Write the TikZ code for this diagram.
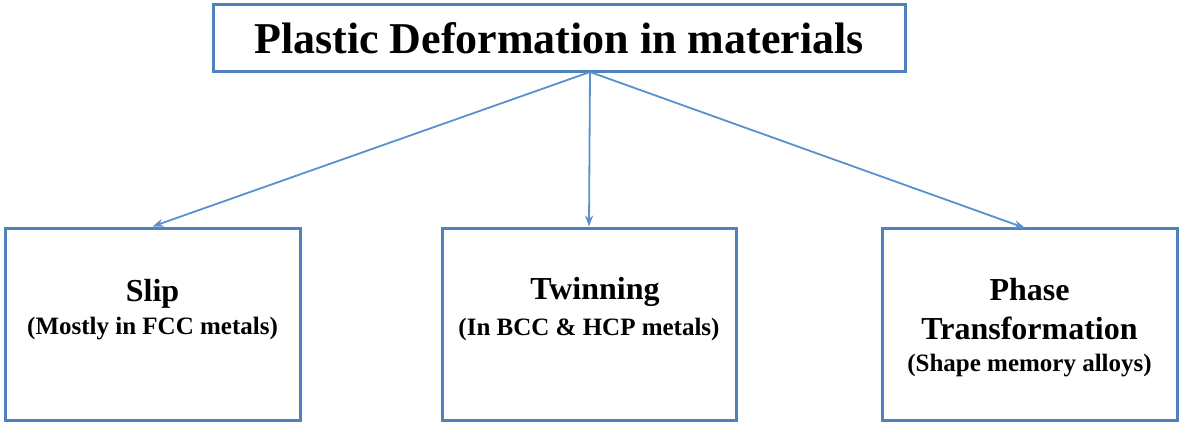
\documentclass[tikz,border=0pt]{standalone}
\usepackage{fontspec}
\setmainfont{Liberation Serif}
\usetikzlibrary{arrows.meta}
\begin{document}
\begin{tikzpicture}[x=1pt,y=-1pt,
  box/.style={draw=boxblue,line width=3pt,inner sep=0pt},
  head/.style={inner sep=0pt,font=\fontsize{32}{36}\selectfont\bfseries},
  sub/.style={inner sep=0pt,font=\fontsize{25}{28}\selectfont\bfseries},
  arr/.style={draw=lineblue,line width=1.8pt,-{Stealth[length=11pt,width=8pt]}}]
\definecolor{boxblue}{RGB}{79,129,189}
\definecolor{lineblue}{RGB}{90,145,205}
\useasboundingbox (0,0) rectangle (1183,425);
\node[box,minimum width=692pt,minimum height=67pt] (top) at (559,38.5)
  {\fontsize{44}{48}\selectfont\bfseries Plastic Deformation in materials};
\node[box,minimum width=295pt,minimum height=192pt] (slip) at (152.5,324) {};
\node[box,minimum width=294pt,minimum height=192pt] (twin) at (589,324) {};
\node[box,minimum width=295pt,minimum height=192pt] (phase) at (1029.5,324) {};
\node[head] (s1) at (152.5,294) {Slip};
\node[sub] (s2) at (152.5,329) {(Mostly in FCC metals)};
\node[head] (t1) at (595,292) {Twinning};
\node[sub] (t2) at (589,329) {(In BCC \& HCP metals)};
\node[head] (p1) at (1029.5,290) {Phase};
\node[head] (p2) at (1029.5,328) {Transformation};
\node[sub] (p3) at (1029.5,366) {(Shape memory alloys)};
\coordinate (o) at (590,72);
\coordinate (pt) at (1025,228);
\draw[arr] (o) -- (slip.north);
\draw[arr] (o) -- (twin.north);
\draw[arr] (o) -- (pt);
\end{tikzpicture}
\end{document}
